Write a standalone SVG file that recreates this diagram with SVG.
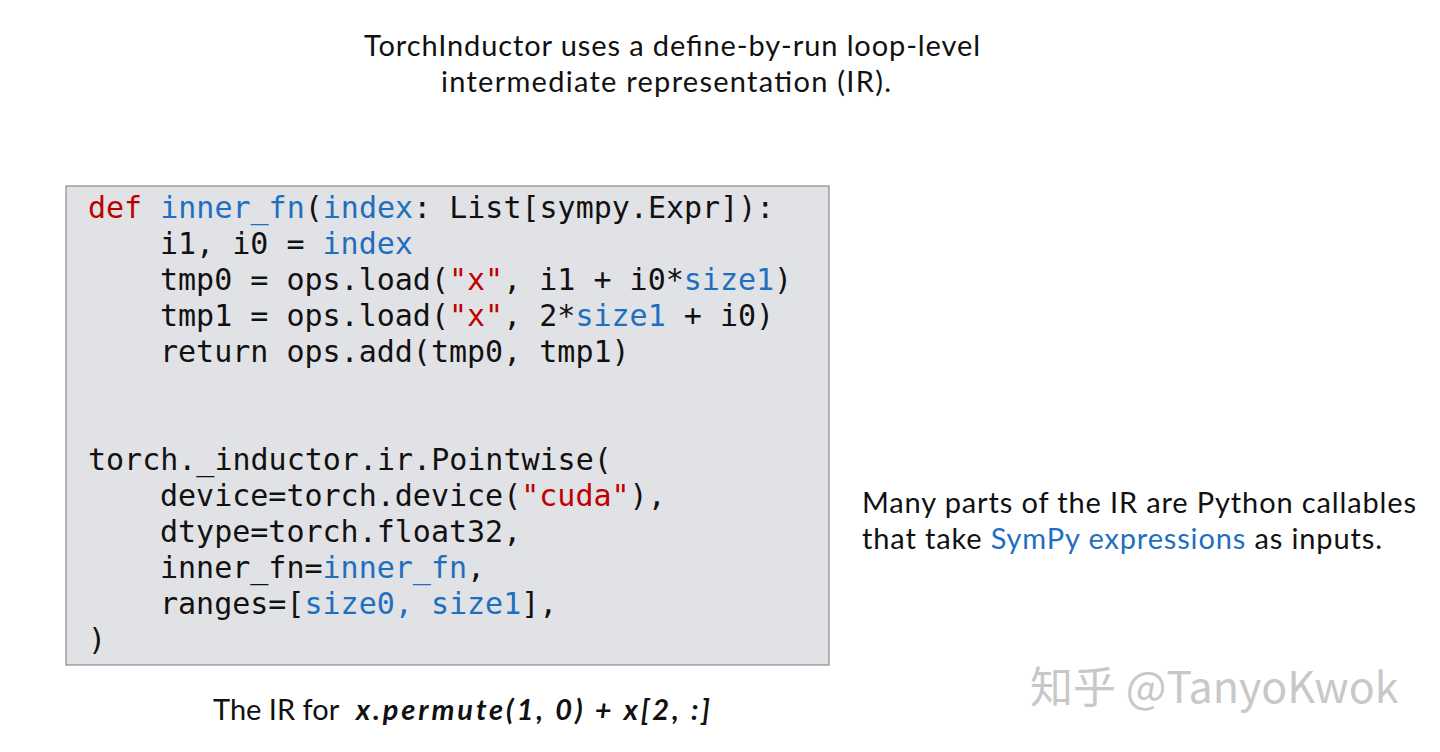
<svg xmlns="http://www.w3.org/2000/svg" width="1440" height="752" viewBox="0 0 1440 752">
<style>
.t{font-family:"Lato","Liberation Sans",sans-serif;font-size:29px;fill:#111}
.c{font-family:"DejaVu Sans Mono","Liberation Mono",monospace;font-size:30px;fill:#111;white-space:pre}
.r{fill:#c00000}.b{fill:#1f6fc0}
</style>
<rect width="1440" height="752" fill="#fff"/>
<g id="title"><text class="t" x="364" y="56" textLength="616" lengthAdjust="spacing">TorchInductor uses a define-by-run loop-level</text>
<text class="t" x="441" y="92" textLength="450" lengthAdjust="spacing">intermediate representation (IR).</text></g>
<g id="code">
<rect x="66" y="186" width="763" height="479" fill="#e1e2e5" stroke="#777" stroke-width="1"/>
<text class="c" xml:space="preserve" x="88" y="218"><tspan class="r">def</tspan> <tspan class="b">inner_fn</tspan>(<tspan class="b">index</tspan>: List[sympy.Expr]):</text>
<text class="c" xml:space="preserve" x="160" y="254">i1, i0 = <tspan class="b">index</tspan></text>
<text class="c" xml:space="preserve" x="160" y="290">tmp0 = ops.load(<tspan class="r">"x"</tspan>, i1 + i0*<tspan class="b">size1</tspan>)</text>
<text class="c" xml:space="preserve" x="160" y="326">tmp1 = ops.load(<tspan class="r">"x"</tspan>, 2*<tspan class="b">size1</tspan> + i0)</text>
<text class="c" xml:space="preserve" x="160" y="362">return ops.add(tmp0, tmp1)</text>
<text class="c" xml:space="preserve" x="88" y="470">torch._inductor.ir.Pointwise(</text>
<text class="c" xml:space="preserve" x="160" y="506">device=torch.device(<tspan class="r">"cuda"</tspan>),</text>
<text class="c" xml:space="preserve" x="160" y="542">dtype=torch.float32,</text>
<text class="c" xml:space="preserve" x="160" y="578">inner_fn=<tspan class="b">inner_fn</tspan>,</text>
<text class="c" xml:space="preserve" x="160" y="614">ranges=[<tspan class="b">size0, size1</tspan>],</text>
<text class="c" xml:space="preserve" x="88" y="650">)</text>
</g>
<g id="note"><text class="t" x="862" y="513" textLength="554" lengthAdjust="spacing">Many parts of the IR are Python callables</text>
<text class="t" x="862" y="549" textLength="520" lengthAdjust="spacing">that take <tspan class="b">SymPy expressions</tspan> as inputs.</text></g>
<g id="caption"><text class="t" x="213" y="720">The IR for </text><text class="t" x="356" y="720" font-style="italic" font-weight="bold" textLength="354" lengthAdjust="spacing">x.permute(1, 0) + x[2, :]</text></g>
<text x="1030" y="703" font-family="Noto Sans CJK SC,Liberation Sans,sans-serif" font-size="43" fill="#c8c8c8">知乎 @TanyoKwok</text>
</svg>
